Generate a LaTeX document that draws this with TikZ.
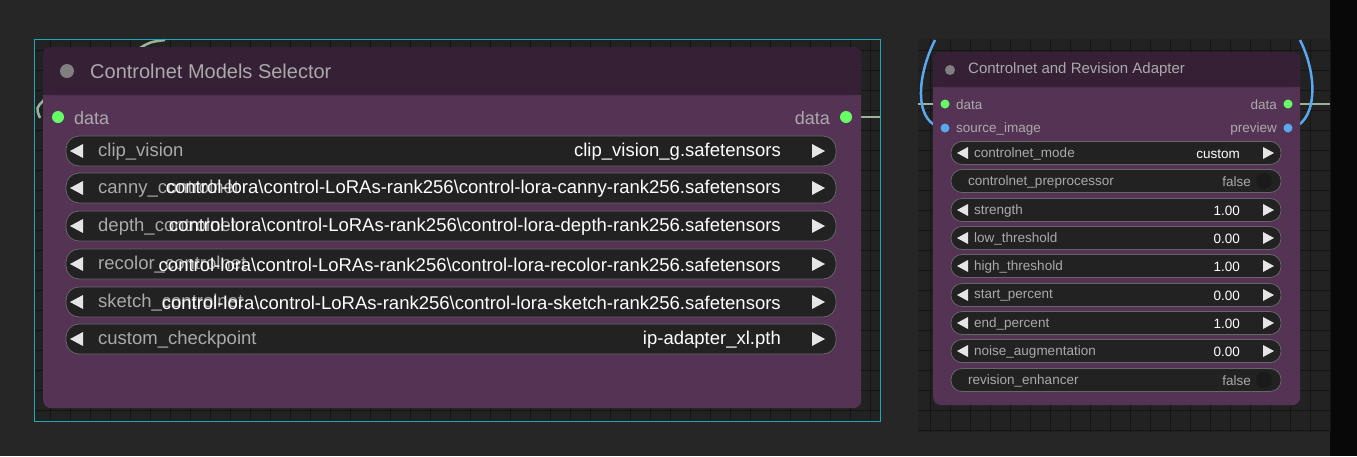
\documentclass[tikz,border=0pt]{standalone}
\usepackage{fontspec}
\setmainfont{Liberation Sans}
\begin{document}
\begin{tikzpicture}[x=1pt,y=-1pt,
  nodebody/.style={fill=body,rounded corners=8pt},
  wid/.style={draw=widb,fill=widf,rounded corners=13pt,line width=0.8pt},
  lab/.style={text=labc,anchor=west,inner sep=0pt},
  val/.style={text=white,anchor=east,inner sep=0pt},
  link/.style={draw=linkc,line width=2.5pt},
  blink/.style={draw=bluec,line width=2.5pt}]
\definecolor{bg}{HTML}{262626}
\definecolor{grid}{HTML}{222222}
\definecolor{gline}{HTML}{151515}
\definecolor{body}{HTML}{553355}
\definecolor{title}{HTML}{352035}
\definecolor{widf}{HTML}{222222}
\definecolor{widb}{HTML}{666666}
\definecolor{labc}{HTML}{AAAAAA}
\definecolor{linkc}{HTML}{9AB39A}
\definecolor{bluec}{HTML}{5AA8F0}
\definecolor{selc}{HTML}{1AAAB8}
\useasboundingbox (0,0) rectangle (1357,456);
\fill[bg] (0,0) rectangle (1357,456);
\fill[grid] (34,39) rectangle (880,421);
\fill[grid] (918,39) rectangle (1330,432);
\fill[black!80!bg] (1330,0) rectangle (1357,456);
\foreach \x in {50,70,...,870} \draw[gline,line width=0.6pt] (\x,39)--(\x,421);
\foreach \y in {50,70,...,420} \draw[gline,line width=0.6pt] (34,\y)--(880,\y);
\foreach \x in {930,950,...,1330} \draw[gline,line width=0.6pt] (\x,39)--(\x,432);
\foreach \y in {50,70,...,430} \draw[gline,line width=0.6pt] (918,\y)--(1330,\y);
% links left
\draw[link] (140,48) .. controls (150,42) .. (165,40);
\draw[link] (44,100) .. controls (36,108) .. (40,118);
\draw[link] (861,117) -- (880,117);
% links right
\draw[link] (918,104) -- (936,104);
\draw[link] (1300,104) -- (1330,104);
\draw[blink] (935,40) .. controls (915,80) and (915,125) .. (944,128);
\draw[blink] (1300,40) .. controls (1320,80) and (1315,125) .. (1290,128);
% left node
\node[draw=selc,line width=1pt,minimum width=846,minimum height=382,anchor=north west,inner sep=0pt] (sel) at (34,39) {};
\node[nodebody,minimum width=818,minimum height=361,anchor=north west,inner sep=0pt] (n1) at (43,47) {};
\fill[title,rounded corners=8pt] (43,95) |- (861,47) |- (43,95) -- cycle;
\fill[title] (43,80) rectangle (861,95);
\fill[gray] (67,71) circle (7);
\node[lab,font=\fontsize{20}{24}\selectfont,text=labc] (t1) at (90,71) {Controlnet Models Selector};
\fill[green!60!white] (58,117) circle (6);
\node[lab,font=\fontsize{18}{20}\selectfont] (d1) at (74,118) {data};
\fill[green!60!white] (846,117) circle (6);
\node[val,font=\fontsize{18}{20}\selectfont,text=labc] (d2) at (830,118) {data};
\foreach \y/\l/\v in {151/clip\_vision/clip\_vision\_g.safetensors,
 188/canny\_controlnet/control-lora\textbackslash control-LoRAs-rank256\textbackslash control-lora-canny-rank256.safetensors,
 226/depth\_controlnet/control-lora\textbackslash control-LoRAs-rank256\textbackslash control-lora-depth-rank256.safetensors,
 264/recolor\_controlnet/control-lora\textbackslash control-LoRAs-rank256\textbackslash control-lora-recolor-rank256.safetensors,
 302/sketch\_controlnet/control-lora\textbackslash control-LoRAs-rank256\textbackslash control-lora-sketch-rank256.safetensors,
 339/custom\_checkpoint/ip-adapter\_xl.pth}{
  \draw[wid] (66,\y-15) rectangle (836,\y+15);
  \fill[white!90!black] (70,\y) -- (83,\y-7) -- (83,\y+7) -- cycle;
  \fill[white!90!black] (825,\y) -- (812,\y-7) -- (812,\y+7) -- cycle;
  \node[lab,font=\fontsize{18.5}{20}\selectfont] at (98,\y+1) {\l};
  \node[val,font=\fontsize{18.5}{20}\selectfont] at (781,\y+1) {\v};
}
% right node
\node[nodebody,minimum width=367,minimum height=353,anchor=north west,inner sep=0pt] (n2) at (933,52) {};
\fill[title,rounded corners=8pt] (933,87) |- (1300,52) |- (933,87) -- cycle;
\fill[title] (933,75) rectangle (1300,87);
\fill[gray] (950,70) circle (5);
\node[lab,font=\fontsize{15}{18}\selectfont] (t2) at (968,70) {Controlnet and Revision Adapter};
\fill[green!60!white] (945,104) circle (4.5);
\node[lab,font=\fontsize{13.5}{16}\selectfont] at (956,105) {data};
\fill[green!60!white] (1288,104) circle (4.5);
\node[val,font=\fontsize{13.5}{16}\selectfont,text=labc] at (1277,105) {data};
\fill[bluec] (945,128) circle (4.5);
\node[lab,font=\fontsize{13.5}{16}\selectfont] at (956,129) {source\_image};
\fill[bluec] (1288,128) circle (4.5);
\node[val,font=\fontsize{13.5}{16}\selectfont,text=labc] at (1277,129) {preview};
\foreach \y/\l/\v/\t in {153/controlnet\_mode/custom/a,181/controlnet\_preprocessor/false/b,
 210/strength/1.00/a,238/low\_threshold/0.00/a,266/high\_threshold/1.00/a,295/start\_percent/0.00/a,
 323/end\_percent/1.00/a,351/noise\_augmentation/0.00/a,380/revision\_enhancer/false/b}{
  \draw[wid,rounded corners=11pt] (951,\y-11.5) rectangle (1281,\y+11.5);
  \if\t a
    \fill[white!90!black] (957,\y) -- (968,\y-6) -- (968,\y+6) -- cycle;
    \fill[white!90!black] (1274,\y) -- (1263,\y-6) -- (1263,\y+6) -- cycle;
    \node[lab,font=\fontsize{13.5}{16}\selectfont] at (974,\y+1) {\l};
    \node[val,font=\fontsize{13.5}{16}\selectfont] at (1240,\y+1) {\v};
  \else
    \fill[black!20!widf] (1264,\y) circle (8);
    \node[lab,font=\fontsize{13.5}{16}\selectfont] at (968,\y+1) {\l};
    \node[val,font=\fontsize{13.5}{16}\selectfont,text=labc] at (1251,\y+1) {\v};
  \fi
}
\end{tikzpicture}
\end{document}
